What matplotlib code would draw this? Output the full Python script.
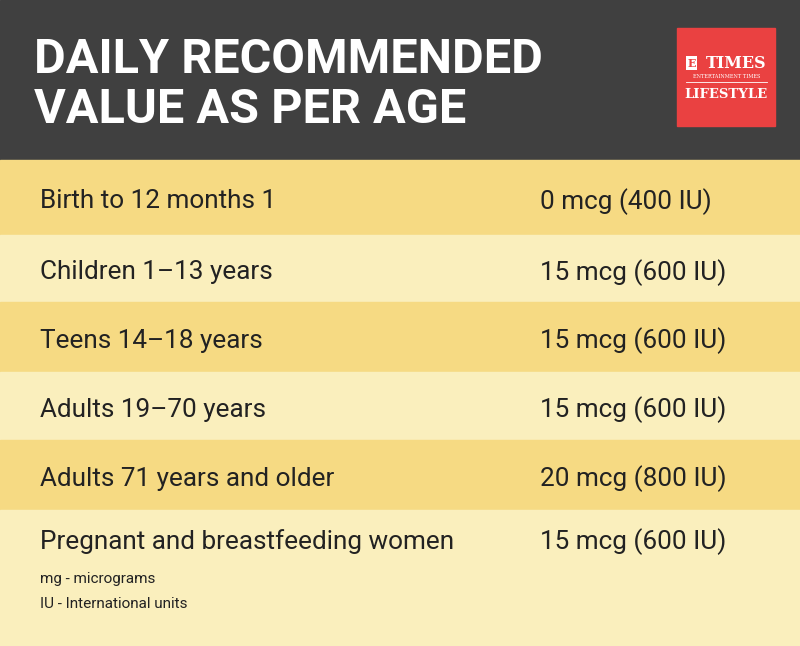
import matplotlib
matplotlib.use("Agg")
import matplotlib.pyplot as plt
from matplotlib.patches import Rectangle

title_lines = ["DAILY RECOMMENDED", "VALUE AS PER AGE"]
ages = ["Birth to 12 months 1", "Children 1\u201313 years", "Teens 14\u201318 years",
        "Adults 19\u201370 years", "Adults 71 years and older",
        "Pregnant and breastfeeding women"]
amounts = ["0 mcg (400 IU)", "15 mcg (600 IU)", "15 mcg (600 IU)",
           "15 mcg (600 IU)", "20 mcg (800 IU)", "15 mcg (600 IU)"]
notes = ["mg - micrograms", "IU - International units"]

W, H = 800, 646
row_edges = [160, 235, 302, 372, 440, 510, 646]
dark, light = "#f6da83", "#faefbd"

fig = plt.figure(figsize=(8, 6.46), dpi=100)
ax = fig.add_axes([0, 0, 1, 1])
ax.set_xlim(0, W)
ax.set_ylim(H, 0)
ax.axis("off")

ax.add_patch(Rectangle((0, 0), W, 160, color="#404040"))
for i, t in enumerate(title_lines):
    ax.text(34, 60 + i * 50, t, color="white", fontsize=35, fontweight="bold",
            family="Roboto", va="center", ha="left")

# logo
ax.add_patch(Rectangle((677, 28), 98, 98, color="#ea4141"))
ax.add_patch(Rectangle((686, 56), 11, 14, facecolor="white"))
ax.text(691.5, 63.5, "E", color="#ea4141", fontsize=8, fontweight="bold",
        family="DejaVu Serif", ha="center", va="center")
ax.text(736, 63, "TIMES", color="white", fontsize=11.5, fontweight="bold",
        family="DejaVu Serif", ha="center", va="center")
ax.text(727, 77, "ENTERTAINMENT TIMES", color="white", fontsize=3.6,
        family="DejaVu Serif", ha="center", va="center")
ax.plot([686, 767], [82, 82], color="white", lw=0.6)
ax.text(726, 94, "LIFESTYLE", color="white", fontsize=9.5, fontweight="bold",
        family="DejaVu Serif", ha="center", va="center")

for i in range(len(ages)):
    y0, y1 = row_edges[i], row_edges[i + 1]
    ax.add_patch(Rectangle((0, y0), W, y1 - y0, color=dark if i % 2 == 0 else light))
    yc = (y0 + y1) / 2 + 4 if i < len(ages) - 1 else 542
    ax.text(40, yc, ages[i], fontsize=18.8, family="Roboto",
            color="#222222", va="center", ha="left")
    ax.text(540, yc, amounts[i], fontsize=18.8, family="Roboto",
            color="#222222", va="center", ha="left")

for i, n in enumerate(notes):
    ax.text(40, 579 + i * 25, n, fontsize=11, family="Roboto", color="#222222",
            va="center", ha="left")

fig.savefig("out.png", dpi=100)
